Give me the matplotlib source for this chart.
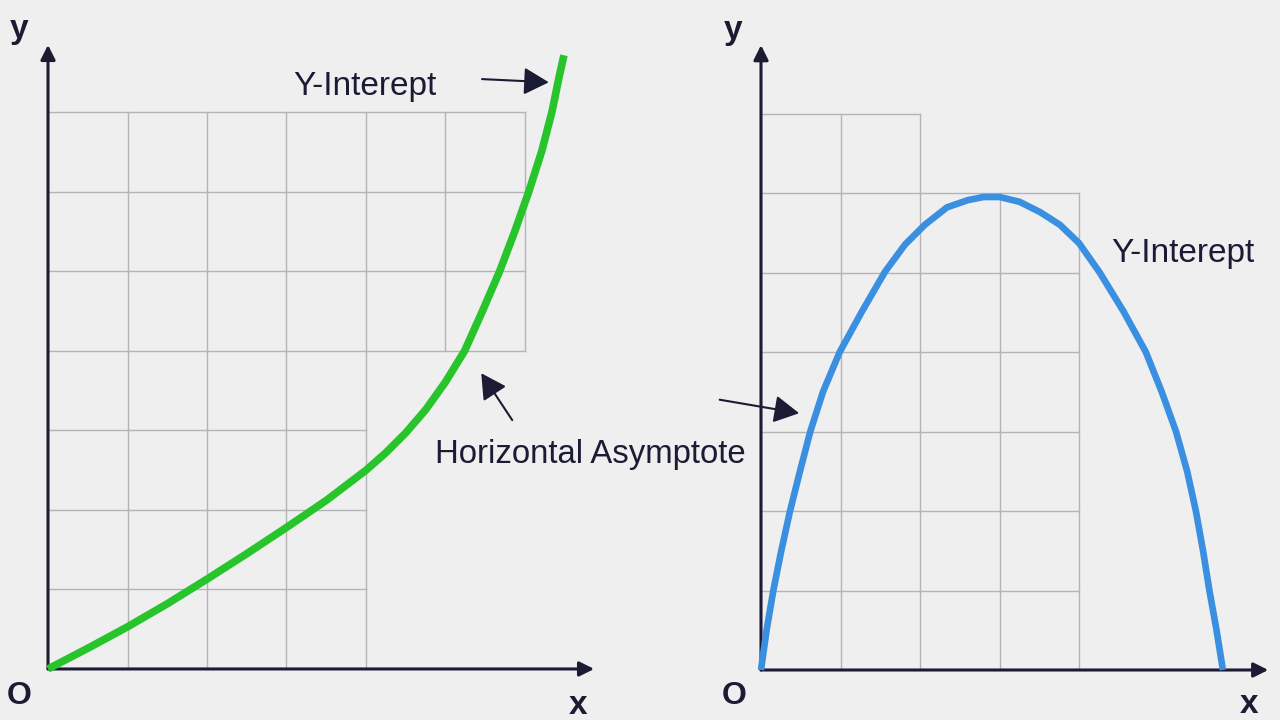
import matplotlib
matplotlib.use("Agg")
import matplotlib.pyplot as plt

# curve values, in grid units (one grid cell = 1)
green_x = [0, 0.5, 1, 1.5, 2, 2.5, 3, 3.5, 4, 4.25, 4.5, 4.75, 5.0, 5.24, 5.46, 5.68, 5.87, 6.05, 6.21,
           6.34, 6.43, 6.49]
green_y = [0, 0.26, 0.53, 0.82, 1.13, 1.45, 1.78, 2.12, 2.5, 2.72, 2.97, 3.26, 3.61, 4.0, 4.49, 5.0, 5.50,
           6.01, 6.51, 7.01, 7.45, 7.72]

blue_x = [0, 0.07, 0.155, 0.255, 0.365, 0.49, 0.62, 0.78, 0.99, 1.27, 1.56, 1.81, 2.06, 2.34, 2.6, 2.8,
          3.0, 3.25, 3.51, 3.76, 4.0, 4.26, 4.56, 4.84, 5.04, 5.22, 5.36, 5.47, 5.56, 5.64, 5.73, 5.81]
blue_y = [0, 0.5, 1.0, 1.5, 2.0, 2.5, 3.0, 3.5, 4.0, 4.51, 5.01, 5.35, 5.60, 5.82, 5.91, 5.95,
          5.95, 5.89, 5.76, 5.60, 5.37, 5.0, 4.51, 4.0, 3.5, 3.0, 2.5, 2.0, 1.5, 1.0, 0.5, 0]

# grid segments: (level, start, end)
left_hgrid = [(7, 0, 6), (6, 0, 6), (5, 0, 6), (4, 0, 6), (3, 0, 4), (2, 0, 4), (1, 0, 4)]
left_vgrid = [(1, 0, 7), (2, 0, 7), (3, 0, 7), (4, 0, 7), (5, 4, 7), (6, 4, 7)]
right_hgrid = [(7, 0, 2), (6, 0, 4), (5, 0, 4), (4, 0, 4), (3, 0, 4), (2, 0, 4), (1, 0, 4)]
right_vgrid = [(1, 0, 7), (2, 0, 7), (3, 0, 6), (4, 0, 6)]

BG = "#efeff0"
INK = "#1b1b33"
GRID = "#b4b4b8"
FONT = "Liberation Sans"

fig = plt.figure(figsize=(12.8, 7.2), dpi=100)
fig.patch.set_facecolor(BG)

axl = fig.add_axes([0, 0, 0.5, 1])
axr = fig.add_axes([0.5, 0, 0.5, 1])
axl.set_xlim(-0.604, 7.447)
axl.set_ylim(-0.642, 8.415)
axr.set_xlim(-1.522, 6.528)
axr.set_ylim(-0.629, 8.428)


def draw_grid(ax, hgrid, vgrid):
    for lev, a, b in hgrid:
        ax.plot([a, b], [lev, lev], color=GRID, lw=1.0, zorder=1)
    for lev, a, b in vgrid:
        ax.plot([lev, lev], [a, b], color=GRID, lw=1.0, zorder=1)


def draw_axes(ax, xend, yend):
    ax.annotate("", xy=(xend, 0), xytext=(0, 0),
                arrowprops=dict(arrowstyle="-|>", color=INK, lw=2.2,
                                mutation_scale=22, shrinkA=0, shrinkB=0), zorder=3)
    ax.annotate("", xy=(0, yend), xytext=(0, 0),
                arrowprops=dict(arrowstyle="-|>", color=INK, lw=2.2,
                                mutation_scale=22, shrinkA=0, shrinkB=0), zorder=3)


def pointer(ax, tip, tail):
    ax.annotate("", xy=tip, xytext=tail, annotation_clip=False,
                arrowprops=dict(arrowstyle="-|>,head_length=0.55,head_width=0.3",
                                color=INK, lw=1.5, mutation_scale=28,
                                shrinkA=0, shrinkB=0), zorder=5)


def label(ax, x, y, s, **kw):
    ax.text(x, y, s, ha="center", va="center", color=INK, family=FONT,
            clip_on=False, **kw)


# left panel
draw_grid(axl, left_hgrid, left_vgrid)
draw_axes(axl, 6.87, 7.85)
axl.plot(green_x, green_y, color="#27c42c", lw=5.5, solid_capstyle="butt",
         solid_joinstyle="round", zorder=4)
label(axl, -0.37, 8.04, "y", fontsize=24, fontweight="bold")
label(axl, -0.36, -0.34, "O", fontsize=23, fontweight="bold")
label(axl, 6.67, -0.46, "x", fontsize=24, fontweight="bold")
label(axl, 3.99, 7.33, "Y-Interept", fontsize=24)
pointer(axl, (6.30, 7.38), (5.46, 7.42))
label(axl, 6.82, 2.70, "Horizontal Asymptote", fontsize=23.7)
pointer(axl, (5.45, 3.72), (5.84, 3.13))

# right panel
draw_grid(axr, right_hgrid, right_vgrid)
draw_axes(axr, 6.38, 7.86)
axr.plot(blue_x, blue_y, color="#3b8fe0", lw=4.8, solid_capstyle="butt",
         solid_joinstyle="round", zorder=4)
label(axr, -0.35, 8.04, "y", fontsize=24, fontweight="bold")
label(axr, -0.34, -0.33, "O", fontsize=23, fontweight="bold")
label(axr, 6.14, -0.44, "x", fontsize=24, fontweight="bold")
label(axr, 5.31, 5.24, "Y-Interept", fontsize=24)
pointer(axr, (0.48, 3.23), (-0.52, 3.40))

for ax in (axl, axr):
    ax.set_axis_off()

fig.savefig("out.png", dpi=100, facecolor=BG)
